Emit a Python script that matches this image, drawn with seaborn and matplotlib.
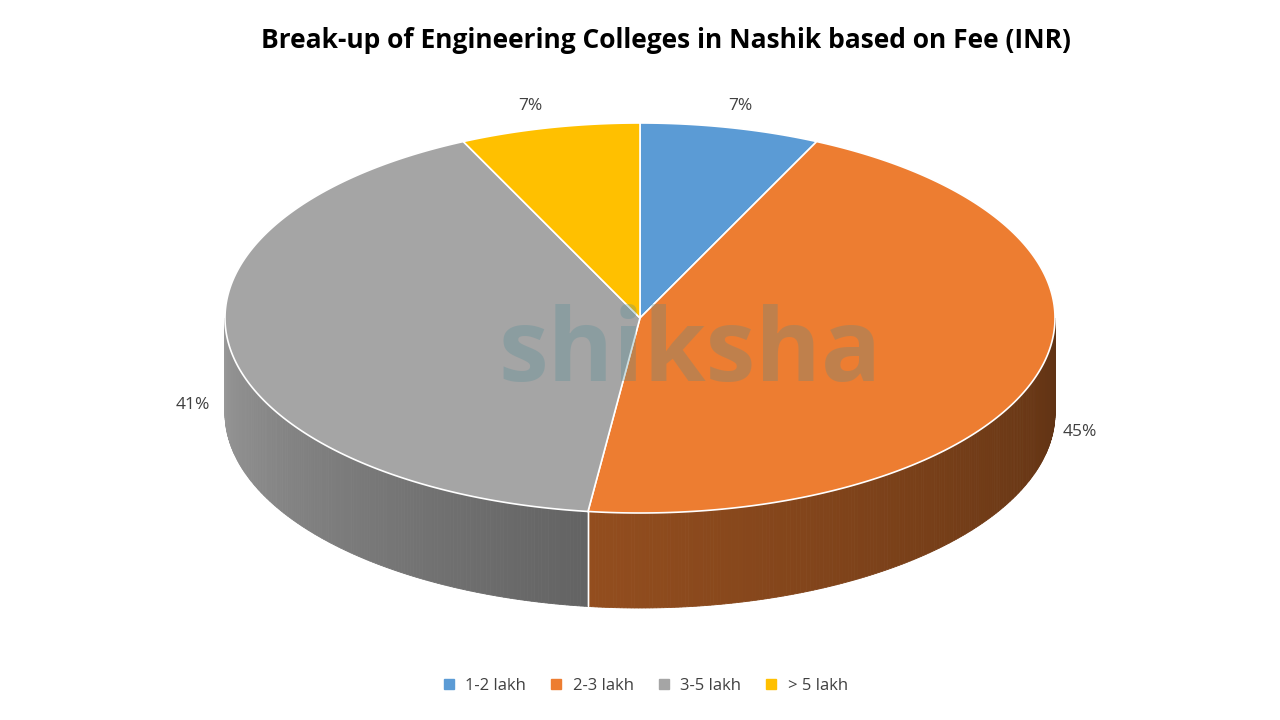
import numpy as np
import matplotlib
matplotlib.use("Agg")
import matplotlib.pyplot as plt
import seaborn as sns
from matplotlib.patches import Polygon
from matplotlib.lines import Line2D
import matplotlib.colors as mc

categories = ["1-2 lakh", "2-3 lakh", "3-5 lakh", "> 5 lakh"]
values = [7, 45, 41, 7]
colors = ["#5B9BD5", "#ED7D31", "#A5A5A5", "#FFC000"]
labels = ["7%", "45%", "41%", "7%"]

sns.set_theme(style="white")
plt.rcParams['font.family'] = ['Open Sans', 'DejaVu Sans']

fig = plt.figure(figsize=(12.8, 7.2), dpi=100)
ax = fig.add_axes([0, 0, 1, 1])
ax.set_xlim(0, 1280); ax.set_ylim(720, 0); ax.axis("off")

cx, cy, rx, ry, depth = 640, 318, 415, 195, 95
def pt(th, dy=0):
    r = np.radians(th)
    return cx + rx*np.cos(r), cy - ry*np.sin(r) + dy

total = sum(values)
angles = []
a = 90.0
for v in values:
    b = a - 360.0*v/total
    angles.append((a, b))
    a = b

for (a0, a1), c in zip(angles, colors):
    for off in (0, 360):
        s0, s1 = a1 + off, a0 + off
        lo, hi = max(s0, -180), min(s1, 0)
        if lo >= hi:
            continue
        n = int((hi - lo) * 2) + 2
        ts = np.linspace(hi, lo, n)
        base = np.array(mc.to_rgb(c))
        for i in range(n - 1):
            f = i / (n - 2) if n > 2 else 0
            if c == "#ED7D31":
                shade = 0.40 + 0.22 * f
            else:
                shade = 0.60 + 0.32 * f
            col = np.clip(base * shade, 0, 1)
            p1, p2 = pt(ts[i]), pt(ts[i+1])
            poly = [p1, p2, (p2[0], p2[1]+depth), (p1[0], p1[1]+depth)]
            ax.add_patch(Polygon(poly, closed=True, facecolor=col, edgecolor=col, lw=0.6))
        for t in (lo, hi):
            if t not in (-180, 0):
                p = pt(t)
                ax.plot([p[0], p[0]], [p[1], p[1]+depth], color="white", lw=1)

for (a0, a1), c in zip(angles, colors):
    ts = np.linspace(a0, a1, 200)
    poly = [(cx, cy)] + [pt(t) for t in ts]
    ax.add_patch(Polygon(poly, closed=True, facecolor=c, edgecolor="white", lw=1.2))

ax.text(690, 355, "shiksha", fontsize=72, fontweight="bold", color="#4a8a95",
        alpha=0.28, ha="center", va="center")

label_pos = [(740, 106), (1080, 432), (193, 405), (530, 106)]
for (x, y), l in zip(label_pos, labels):
    ax.text(x, y, l, fontsize=12.5, color="#404040", ha="center", va="center")

ax.text(666, 40, "Break-up of Engineering Colleges in Nashik based on Fee (INR)",
        fontsize=19, fontweight="bold", color="#000000", ha="center", va="center")

handles = [Line2D([], [], marker="s", ls="", color=c, markersize=7) for c in colors]
fig.legend(handles, categories, loc="center", bbox_to_anchor=(0.5, 1 - 686/720),
           ncol=4, frameon=False, fontsize=12, handletextpad=0.0, columnspacing=0.8,
           labelcolor="#404040")

fig.savefig("out.png", dpi=100, facecolor="white")
